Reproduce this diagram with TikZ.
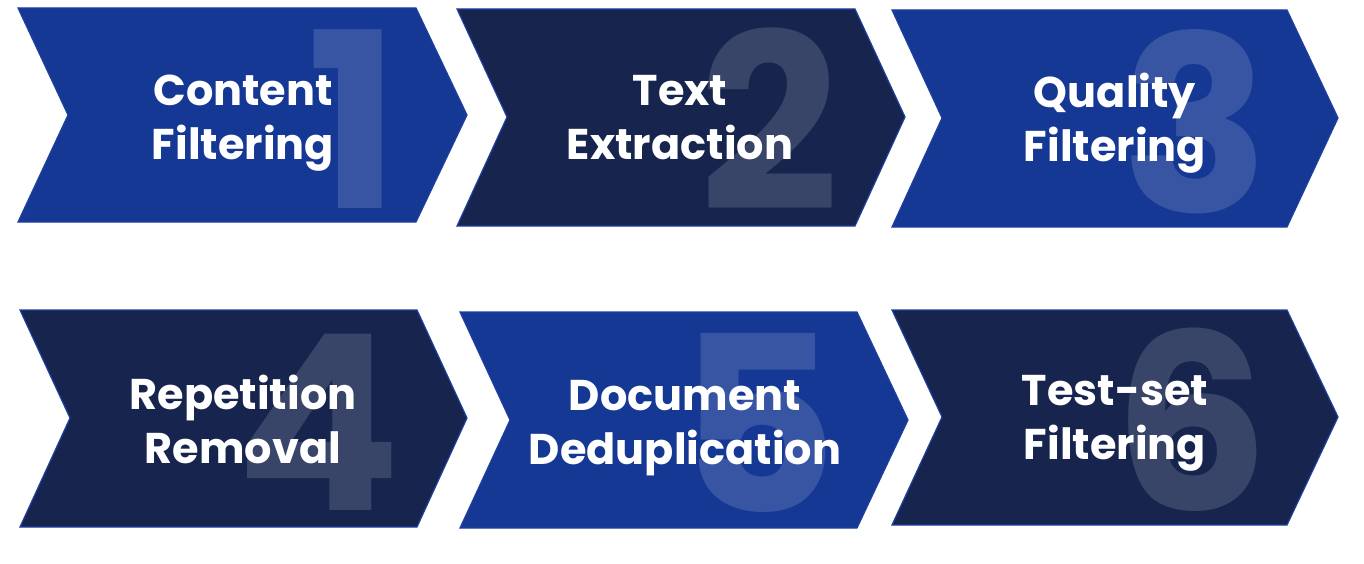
\documentclass[tikz,border=0pt]{standalone}
\usepackage{fontspec}
\setmainfont{Poppins}
\usepackage{tikz}
\usetikzlibrary{positioning,calc}
\definecolor{stepblue}{RGB}{21,56,148}
\definecolor{stepnavy}{RGB}{22,36,78}
\definecolor{stepedge}{RGB}{30,64,160}
\tikzstyle{chev}= [draw=stepedge, line width=1.2pt, line join=miter]
\tikzstyle{lbl}= [text=white, align=center, font=\fontsize{43}{54}\selectfont\bfseries, inner sep=0pt]
\tikzstyle{num}= [text=white, text opacity=0.15, font=\fontsize{245}{245}\selectfont\bfseries, inner sep=0pt, anchor=base east]

\begin{document}
\begin{tikzpicture}[x=1pt,y=-1pt]
					\useasboundingbox[fill=white] (0,0) rectangle (1364,564);
					% first row
					\filldraw[chev, fill=stepblue] (18,8) coordinate (c1) -- (416,8) -- (467,115) -- (416,222) -- (18,222) -- (68,115) -- cycle;
					\filldraw[chev, fill=stepnavy] (457,9) coordinate (c2) -- (855,9) -- (905,117) -- (855,226) -- (457,226) -- (507,117) -- cycle;
					\filldraw[chev, fill=stepblue] (892,10) coordinate (c3) -- (1287,10) -- (1338,118) -- (1287,227) -- (892,227) -- (942,118) -- cycle;
					% second row
					\filldraw[chev, fill=stepnavy] (20,310) coordinate (c4) -- (417,310) -- (467,418) -- (417,527) -- (20,527) -- (70,418) -- cycle;
					\filldraw[chev, fill=stepblue] (460,312) coordinate (c5) -- (857,312) -- (908,420) -- (857,528) -- (460,528) -- (510,420) -- cycle;
					\filldraw[chev, fill=stepnavy] (892,310) coordinate (c6) -- (1287,310) -- (1338,417) -- (1287,525) -- (892,525) -- (942,417) -- cycle;
					% numbers
					\node[num] at (400,208) (n1) {1};
					\node[num] at (840,210) (n2) {2};
					\node[num] at (1270,212) (n3) {3};
					\node[num] at (402,510) (n4) {4};
					\node[num] at (838,512) (n5) {5};
					\node[num] at (1270,510) (n6) {6};
					% labels
					\node[lbl] at (243,122) (t1) {\strut Content\\\strut Filtering};
					\node[lbl] at (680,122) (t2) {\strut Text\\\strut Extraction};
					\node[lbl] at (1115,124) (t3) {\strut Quality\\\strut Filtering};
					\node[lbl] at (243,426) (t4) {\strut Repetition\\\strut Removal};
					\node[lbl] at (685,427) (t5) {\strut Document\\\strut Deduplication};
					\node[lbl] at (1115,422) (t6) {\strut Test-set\\\strut Filtering};
				\end{tikzpicture}
\end{document}
